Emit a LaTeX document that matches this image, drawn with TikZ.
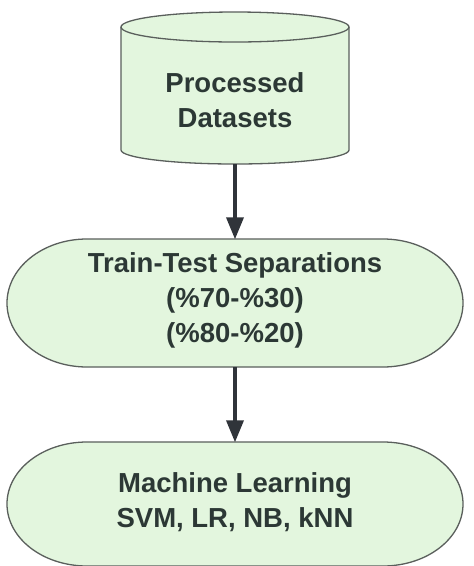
\documentclass[tikz,border=0pt]{standalone}
\usepackage{fontspec}
\setmainfont{Liberation Sans}
\usetikzlibrary{arrows.meta}
\definecolor{boxfill}{HTML}{E3F6DE}
\definecolor{boxline}{HTML}{5A5F5C}
\definecolor{txt}{HTML}{2C3835}
\definecolor{arr}{HTML}{30343A}
\tikzset{
  shapeline/.style={draw=boxline, line width=1.3pt, fill=boxfill},
  frame/.style={rectangle, minimum width=456pt, inner sep=0pt},
  lbl/.style={text=txt, font=\fontsize{27.5}{35}\selectfont\bfseries, align=center, inner sep=0pt},
  flow/.style={draw=arr, line width=3.6pt, -{Triangle[length=22pt,width=17pt]}, shorten >=-0.5pt},
}
\begin{document}
\begin{tikzpicture}[x=1pt,y=1pt]
\useasboundingbox[fill=white] (0,0) rectangle (474,-566);
% cylinder
\path[shapeline] (121,-27) -- (121,-150) arc[start angle=180,end angle=360,x radius=114,y radius=14] -- (349,-27) arc[start angle=0,end angle=180,x radius=114,y radius=15] -- cycle;
\draw[draw=boxline, line width=1.3pt] (121,-27) arc[start angle=180,end angle=360,x radius=114,y radius=15];
\node[lbl] (pd) at (235,-100) {Processed\\Datasets};
\coordinate (pdb) at (235,-164);
% stadium 2
\path[shapeline] (87,-239) -- (383,-239) arc[start angle=90,end angle=-90,x radius=80,y radius=64] -- (87,-367) arc[start angle=270,end angle=90,x radius=80,y radius=64] -- cycle;
\node[frame, minimum height=128pt] (tt) at (235,-303) {};
\node[lbl] (ttl) at (235,-300) {Train-Test Separations\\(\%70-\%30)\\(\%80-\%20)};
% stadium 3
\path[shapeline] (87,-442) -- (383,-442) arc[start angle=90,end angle=-90,x radius=80,y radius=62] -- (87,-566) arc[start angle=270,end angle=90,x radius=80,y radius=62] -- cycle;
\node[frame, minimum height=124pt] (ml) at (235,-504) {};
\node[lbl] (mll) at (235,-502) {Machine Learning\\SVM, LR, NB, kNN};
% arrows
\draw[flow] (pdb) -- (tt.north);
\draw[flow] (tt.south) -- (ml.north);
\end{tikzpicture}
\end{document}
